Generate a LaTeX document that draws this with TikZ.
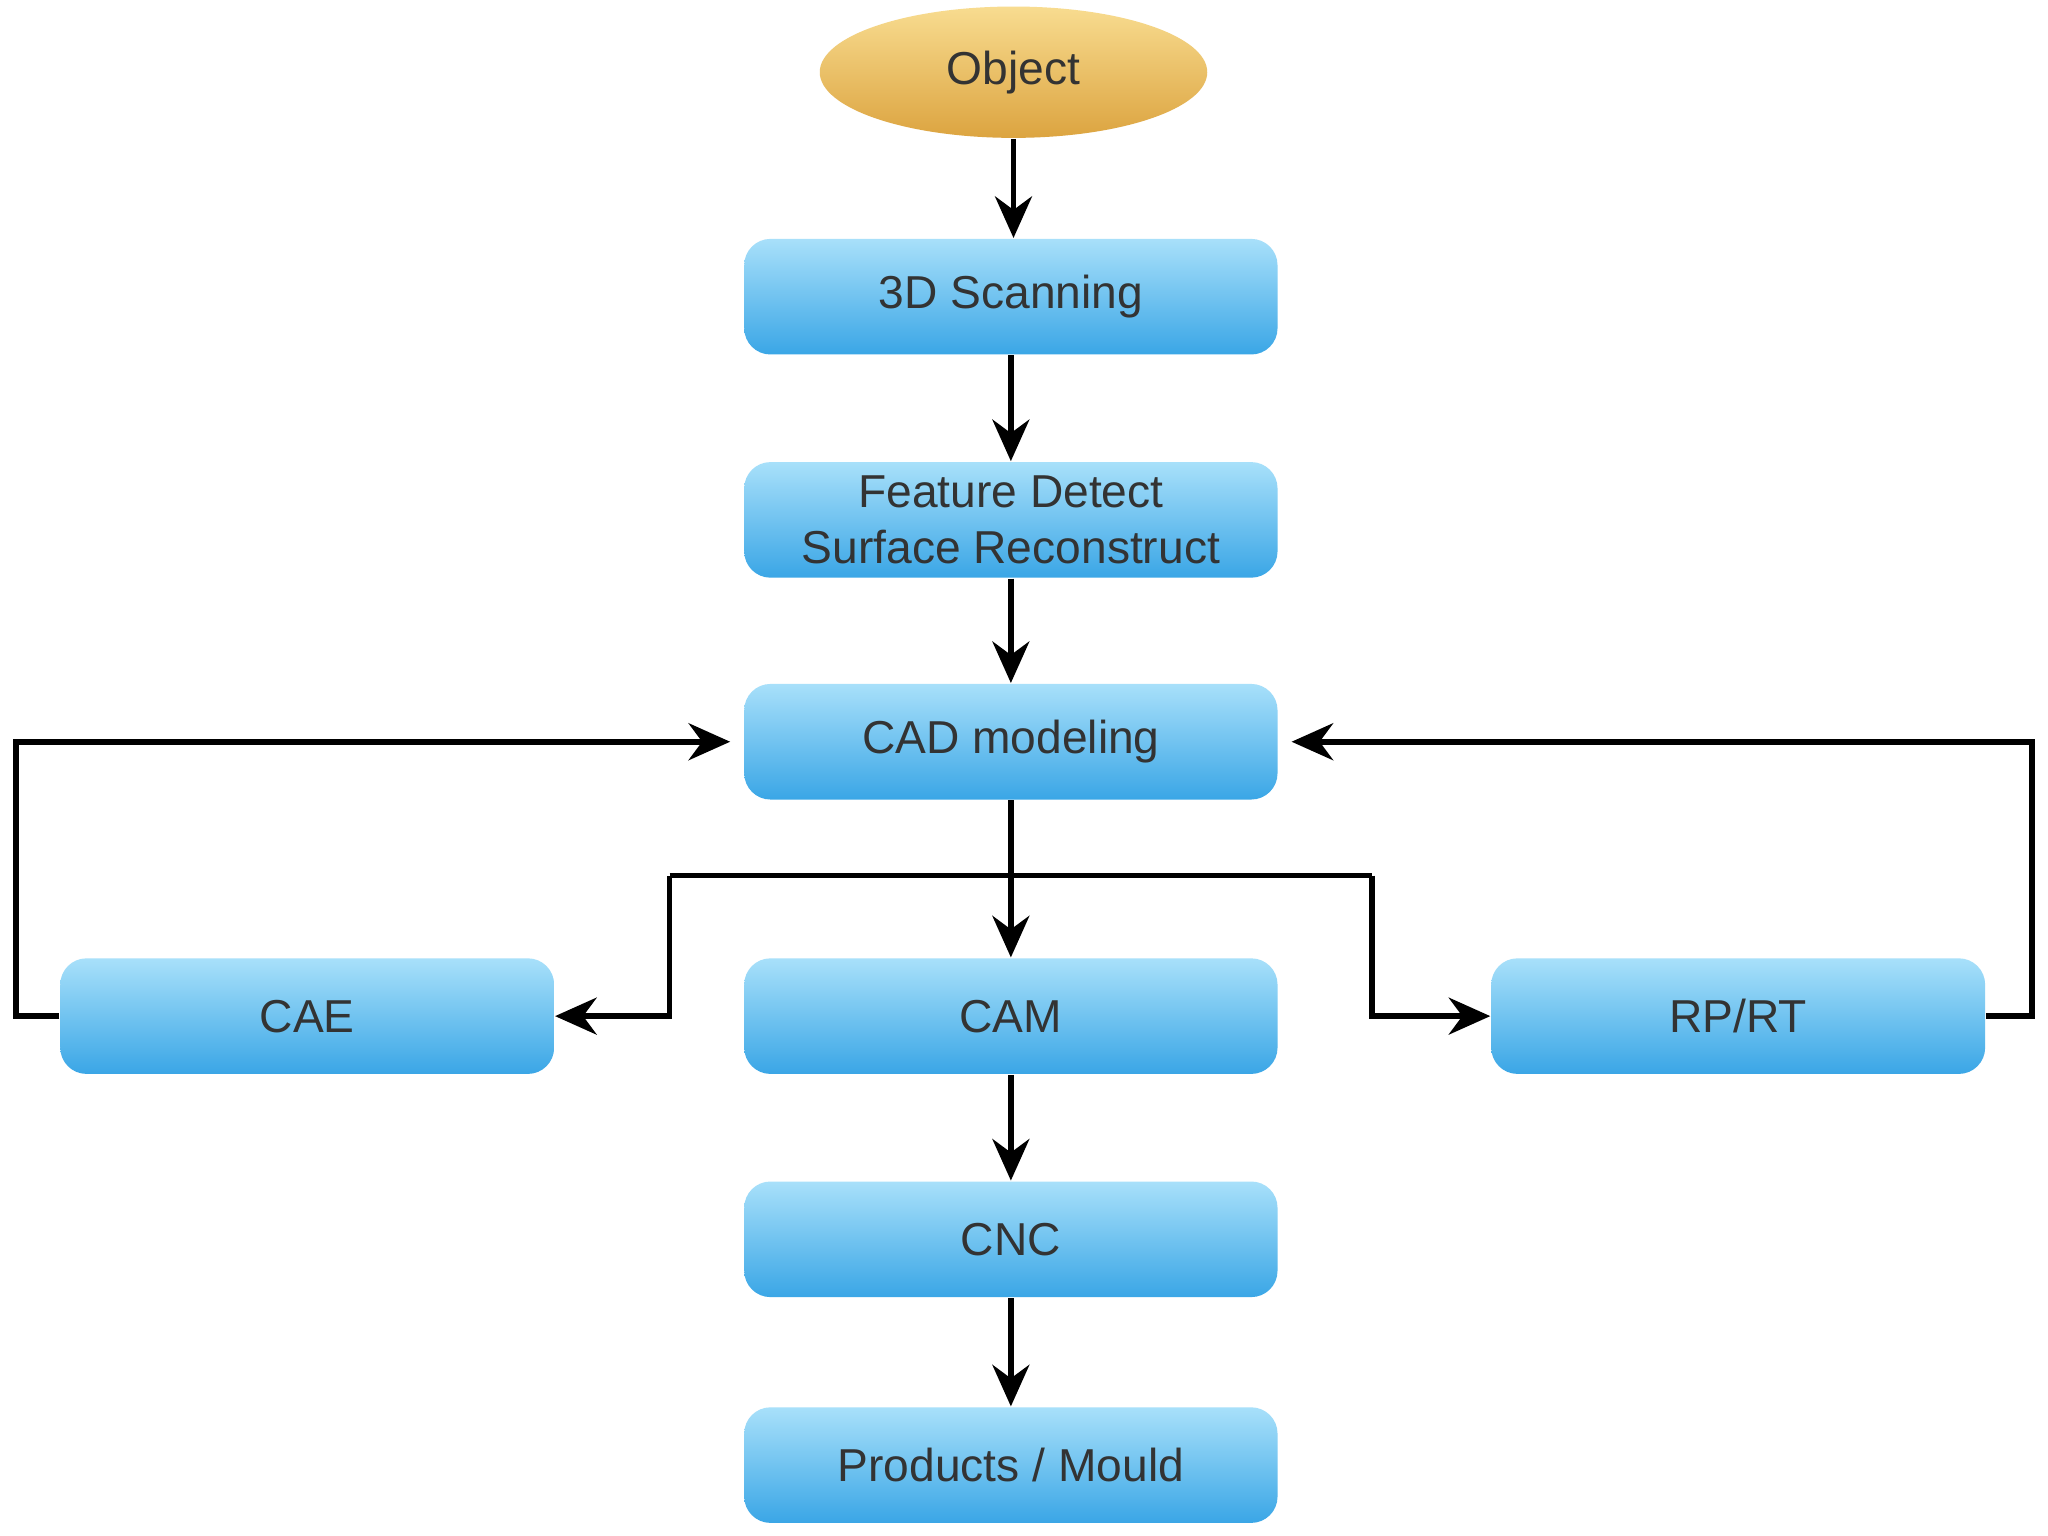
\documentclass[tikz,border=0pt]{standalone}
\usepackage{fontspec}
\setmainfont{Liberation Sans}
\usetikzlibrary{shapes.geometric,arrows.meta}
\definecolor{btop}{HTML}{A8E0FA}
\definecolor{bbot}{HTML}{3AA6E6}
\definecolor{otop}{HTML}{F8DC90}
\definecolor{obot}{HTML}{DCA440}
\begin{document}
\begin{tikzpicture}[x=0.01cm,y=-0.01cm,
  box/.style={rectangle,rounded corners=0.2cm,minimum width=4.06cm,minimum height=0.88cm,
    inner sep=0pt,top color=btop,bottom color=bbot,draw=none,
    text=black!80,font=\fontsize{10}{12}\selectfont,align=center},
  obj/.style={ellipse,minimum width=2.95cm,minimum height=1.0cm,
    top color=otop,bottom color=obot,draw=none,
    text=black!80,font=\fontsize{10}{12}\selectfont},
  arr/.style={draw=black,line width=1.2pt,-{Stealth[length=9pt,width=8pt]}},
  ln/.style={draw=black,line width=1.2pt}]
\useasboundingbox[fill=white] (0,0) rectangle (1560,1170);
\node[obj] (obj) at (772,55) {Object};
\node[box] (scan) at (770,226) {3D Scanning};
\node[box] (feat) at (770,396) {Feature Detect\\Surface Reconstruct};
\node[box] (cad) at (770,565) {CAD modeling};
\node[box,minimum width=3.76cm] (cae) at (234,774) {CAE};
\node[box] (cam) at (770,774) {CAM};
\node[box,minimum width=3.76cm] (rp) at (1324,774) {RP/RT};
\node[box] (cnc) at (770,944) {CNC};
\node[box] (prod) at (770,1116) {Products / Mould};
\draw[arr] (obj.south) -- (obj.south |- scan.north);
\draw[arr] (scan) -- (feat);
\draw[arr] (feat) -- (cad);
\draw[arr] (cad) -- (cam);
\draw[arr] (cam) -- (cnc);
\draw[arr] (cnc) -- (prod);
\coordinate (bl) at (510,667);
\coordinate (br) at (1045,667);
\draw[ln] (bl) -- (br);
\draw[arr] (bl) -- (510,774) -- (cae.east);
\draw[arr] (br) -- (1045,774) -- (rp.west);
\draw[arr] (cae.west) -- (12,774) -- (12,565) -- ([xshift=-0.1cm]cad.west);
\draw[arr] (rp.east) -- (1548,774) -- (1548,565) -- ([xshift=0.1cm]cad.east);
\end{tikzpicture}
\end{document}
